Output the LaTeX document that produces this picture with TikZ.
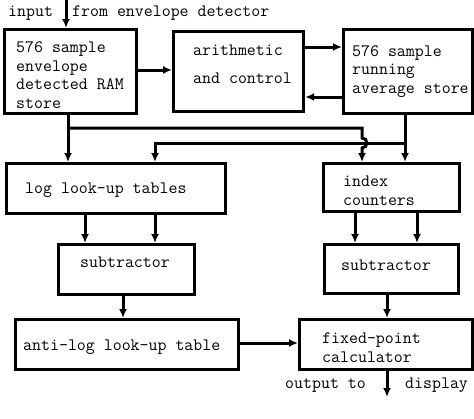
\documentclass[tikz,border=0pt]{standalone}
\usepackage{fontspec}
\usetikzlibrary{positioning,arrows.meta}

\tikzset{
	blk/.style={draw=black, line width=3.2pt, inner sep=0pt, anchor=north west},
	lbl/.style={font=\ttfamily\fontsize{17.4}{18.5}\selectfont, anchor=base west, align=left, inner sep=0pt},
	flow/.style={draw=black, line width=3pt, -{Latex[length=9pt,width=8pt]}},
}

\begin{document}
\begin{tikzpicture}[x=1pt, y=-1pt]
		\useasboundingbox (0,0) rectangle (474,418);
		% blocks
		\node[blk, minimum width=132pt, minimum height=84pt] (ram) at (3,28) {};
		\node[blk, minimum width=130pt, minimum height=80pt] (arith) at (172,30) {};
		\node[blk, minimum width=129pt, minimum height=84pt] (avg) at (342,28) {};
		\node[blk, minimum width=219pt, minimum height=50pt] (log) at (5,162) {};
		\node[blk, minimum width=136pt, minimum height=50pt] (subl) at (57,243) {};
		\node[blk, minimum width=136pt, minimum height=48pt] (index) at (322,162) {};
		\node[blk, minimum width=134pt, minimum height=49pt] (subr) at (323,243) {};
		\node[blk, minimum width=223pt, minimum height=50pt] (antilog) at (14,318) {};
		\node[blk, minimum width=173pt, minimum height=50pt] (fixed) at (298,318) {};
		% texts (multi-line ones sit on their last baseline)
		\node[lbl] (intxt) at (8,16) {input};
		\node[lbl] (fromtxt) at (72,16) {from envelope detector};
		\node[lbl] (ramtxt) at (16,108) {576 sample\\envelope\\detected RAM\\store};
		\node[lbl] (arithtxt) at (193,83) {arithmetic\\[9.5pt]and control};
		\node[lbl] (avgtxt) at (352,93) {576 sample\\running\\average store};
		\node[lbl] (logtxt) at (25,193) {log look-up tables};
		\node[lbl] (subltxt) at (80,267) {subtractor};
		\node[lbl] (indextxt) at (343,205) {index\\counters};
		\node[lbl] (subrtxt) at (341,270) {subtractor};
		\node[lbl] (antitxt) at (23,350) {anti-log look-up table};
		\node[lbl] (fixedtxt) at (322,362) {fixed-point\\calculator};
		\node[lbl] (outtxt) at (285,388) {output to};
		\node[lbl] (disptxt) at (405,388) {display};
		% connectors
		\coordinate (inp) at (66,0);
		\coordinate (out) at (387,397);
		\coordinate (fork) at (68,128);
		\coordinate (split) at (405,143);
		\draw[flow] (inp) -- (inp |- ram.north);
		\draw[flow] (ram.east |- 0,70) -- (arith.west |- 0,70);
		\draw[flow] (arith.east |- 0,47) -- (avg.west |- 0,47);
		\draw[flow] (avg.west |- 0,97) -- (arith.east |- 0,97);
		\draw[flow] (ram.south -| fork) -- (log.north -| fork);
		\draw[flow] (fork) -- (362,128) -- (362,138) arc[start angle=-90, end angle=90, radius=5] -- (index.north -| 362,0);
		\draw[flow] (avg.south -| split) -- (index.north -| split);
		\draw[flow] (split) -- (155,143) -- (log.north -| 155,0);
		\draw[flow] (log.south -| 85,0) -- (subl.north -| 85,0);
		\draw[flow] (log.south -| 155,0) -- (subl.north -| 155,0);
		\draw[flow] (index.south -| 355,0) -- (subr.north -| 355,0);
		\draw[flow] (index.south -| 417,0) -- (subr.north -| 417,0);
		\draw[flow] (subl.south -| 123,0) -- (antilog.north -| 123,0);
		\draw[flow] (subr.south -| out) -- (fixed.north -| out);
		\draw[flow] (antilog.east |- 0,343) -- (fixed.west |- 0,343);
		\draw[flow] (fixed.south -| out) -- (out);
	\end{tikzpicture}
\end{document}
